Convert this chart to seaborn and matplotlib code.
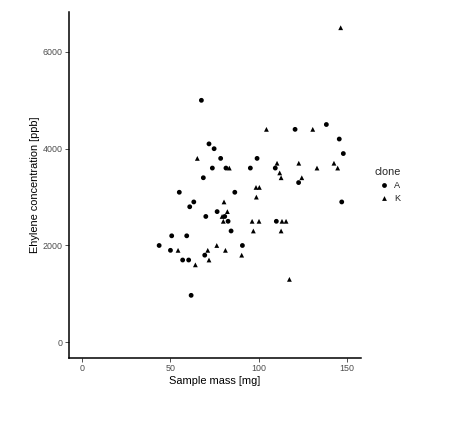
import matplotlib
matplotlib.use("Agg")
import matplotlib.pyplot as plt
import seaborn as sns
import pandas as pd

# Clone A (circles)
mass_A = [43.6, 67.5, 71.8, 74.7, 78.4, 68.6, 55.0, 63.2, 60.9, 73.7, 81.4, 95.2,
          109.3, 86.4, 76.4, 70.0, 80.7, 82.6, 109.9, 84.3, 50.7, 59.2, 90.7, 50.0,
          69.4, 56.9, 60.3, 61.7, 120.5, 138.2, 145.5, 147.8, 99.0, 122.5, 146.9]
eth_A = [2000, 5000, 4100, 4000, 3800, 3400, 3100, 2900, 2800, 3600, 3600, 3600,
         3600, 3100, 2700, 2600, 2600, 2500, 2500, 2300, 2200, 2200, 2000, 1900,
         1800, 1700, 1700, 970, 4400, 4500, 4200, 3900, 3800, 3300, 2900]

# Clone K (triangles)
mass_K = [65.2, 83.3, 80.3, 82.2, 79.2, 79.9, 96.2, 100.1, 113.1, 115.4, 96.9, 112.6,
          76.2, 54.3, 71.1, 81.1, 90.3, 71.8, 64.1, 117.3, 104.3, 130.5, 110.3, 122.6,
          142.5, 132.9, 144.6, 111.8, 112.6, 124.3, 98.4, 100.3, 98.6, 146.3]
eth_K = [3800, 3600, 2900, 2700, 2600, 2500, 2500, 2500, 2500, 2500, 2300, 2300,
         2000, 1900, 1900, 1900, 1800, 1700, 1600, 1300, 4400, 4400, 3700, 3700,
         3700, 3600, 3600, 3500, 3400, 3400, 3200, 3200, 3000, 6500]

clones = ["A", "K"]
x_ticks = [0, 50, 100, 150]
y_ticks = [0, 2000, 4000, 6000]

df = pd.DataFrame({
    "mass": mass_A + mass_K,
    "ethylene": eth_A + eth_K,
    "clone": ["A"] * len(mass_A) + ["K"] * len(mass_K),
})

sns.set_theme(style="ticks")
plt.rcParams["font.family"] = ["Liberation Sans", "DejaVu Sans"]

fig = plt.figure(figsize=(4.74, 4.25), dpi=100)
ax = fig.add_axes([69 / 474, (425 - 358) / 425, 292 / 474, 346 / 425])

sns.scatterplot(data=df, x="mass", y="ethylene", style="clone", style_order=clones,
                markers={"A": "o", "K": "^"}, color="black", s=12, linewidth=0,
                ax=ax)

ax.set_xlim(-7.4, 157.8)
ax.set_ylim(-325, 6825)
ax.set_xticks(x_ticks)
ax.set_yticks(y_ticks)
ax.tick_params(axis="both", colors="#333333", labelcolor="#4D4D4D", labelsize=6.4,
               length=3, width=0.6, pad=1.5)
for side in ["top", "right"]:
    ax.spines[side].set_visible(False)
for side in ["left", "bottom"]:
    ax.spines[side].set_color("black")
    ax.spines[side].set_linewidth(1.1)

ax.set_xlabel("Sample mass [mg]", fontsize=7.9, color="black", labelpad=2)
ax.set_ylabel("Ehylene concentration [ppb]", fontsize=7.9, color="black")
ax.yaxis.set_label_coords(-0.099, 0.5)

leg = ax.legend(title="clone", loc="center left", bbox_to_anchor=(1.035, 0.5),
                frameon=False, fontsize=6.6, title_fontsize=7.8, markerscale=1.0,
                handletextpad=0.1, labelspacing=0.45, borderaxespad=0)
leg._legend_box.align = "left"
for t in leg.get_texts():
    t.set_color("#222222")

fig.savefig("out.png", dpi=100)
